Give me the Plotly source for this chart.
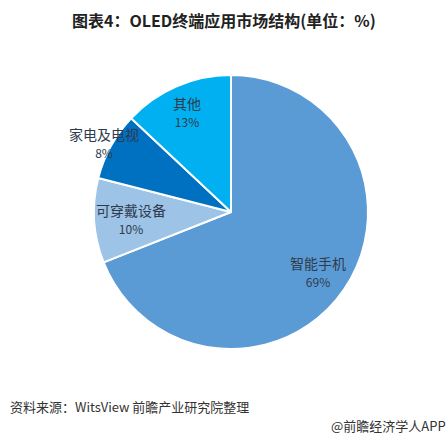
import math
import plotly.graph_objects as go

# ---- data ----
categories = ["智能手机", "可穿戴设备", "家电及电视", "其他"]
shares = [69, 10, 8, 13]
colors = ["#5B9BD5", "#9DC3E6", "#0070C0", "#00B0F0"]
title_text = "<b>图表4：OLED终端应用市场结构(单位：%)</b>"
source_text = "资料来源：WitsView 前瞻产业研究院整理"
brand_text = "@前瞻经济学人APP"

# ---- layout geometry (pixels) ----
W, H = 448, 440
cx, cy, R = 231, 212, 137
label_r = [0.77, 0.73, 1.06, 0.80]   # label distance as fraction of radius

fig = go.Figure()
fig.add_trace(go.Pie(
    labels=categories,
    values=shares,
    sort=False,
    direction="clockwise",
    rotation=0,
    marker=dict(colors=colors, line=dict(color="white", width=2)),
    textinfo="none",
    hoverinfo="skip",
    showlegend=False,
    domain=dict(x=[(cx - R) / W, (cx + R) / W], y=[1 - (cy + R) / H, 1 - (cy - R) / H]),
))

total = sum(shares)
cum = 0
annotations = []
for cat, v, rf in zip(categories, shares, label_r):
    mid = (cum + v / 2) / total * 2 * math.pi
    cum += v
    px = cx + rf * R * math.sin(mid)
    py = cy - rf * R * math.cos(mid)
    pct = round(v / total * 100)
    annotations.append(dict(
        x=px / W, y=1 - py / H, xref="paper", yref="paper",
        xanchor="center", yanchor="middle", showarrow=False,
        text=f"{cat}<br><span style='font-size:12px'>{pct}%</span>",
        font=dict(family="Noto Sans CJK SC", size=14, color="#2e3b4e"),
        align="center",
    ))

annotations.append(dict(
    x=0.5, y=1 - 20 / H, xref="paper", yref="paper", showarrow=False,
    xanchor="center", yanchor="middle", text=title_text,
    font=dict(family="Noto Sans CJK SC", size=16, color="#222222"),
))
annotations.append(dict(
    x=8 / W, y=1 - 406 / H, xref="paper", yref="paper", showarrow=False,
    xanchor="left", yanchor="middle", text=source_text,
    font=dict(family="Noto Sans CJK SC", size=13, color="#333333"),
))
annotations.append(dict(
    x=1.0, y=1 - 425 / H, xref="paper", yref="paper", showarrow=False,
    xanchor="right", yanchor="middle", text=brand_text,
    font=dict(family="Noto Sans CJK SC", size=13, color="#333333"),
))

fig.update_layout(
    width=W, height=H,
    margin=dict(l=0, r=0, t=0, b=0),
    paper_bgcolor="white", plot_bgcolor="white",
    annotations=annotations,
)

fig.write_html("out.html")
